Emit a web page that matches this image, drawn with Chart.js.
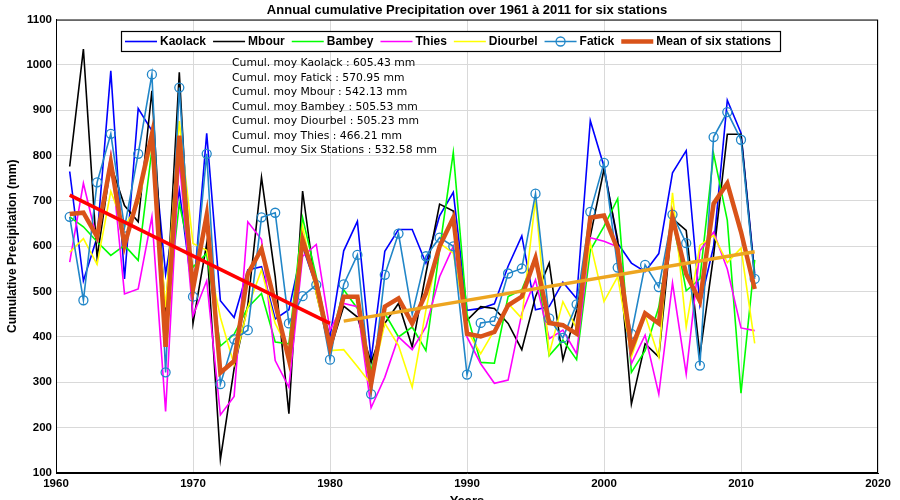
<!DOCTYPE html>
<html>
<head>
<meta charset="utf-8">
<script src="https://cdn.jsdelivr.net/npm/chart.js@4.4.1/dist/chart.umd.min.js"></script>
<style>
  html, body { margin: 0; padding: 0; background: #fff; overflow: hidden; }
  #wrap { position: relative; width: 900px; height: 509px; }
</style>
</head>
<body>
<div id="wrap"><canvas id="precipChart"></canvas></div>
<script>
const years = [1961, 1962, 1963, 1964, 1965, 1966, 1967, 1968, 1969, 1970,
               1971, 1972, 1973, 1974, 1975, 1976, 1977, 1978, 1979, 1980,
               1981, 1982, 1983, 1984, 1985, 1986, 1987, 1988, 1989, 1990,
               1991, 1992, 1993, 1994, 1995, 1996, 1997, 1998, 1999, 2000,
               2001, 2002, 2003, 2004, 2005, 2006, 2007, 2008, 2009, 2010, 2011];

const kaolack = [765, 524, 620, 987, 528, 904, 855, 539, 724, 487,
                 849, 480, 443, 548, 555, 440, 460, 600, 510, 400,
                 590, 655, 350, 589, 637, 637, 563, 667, 719, 459,
                 463, 473, 556, 623, 460, 467, 521, 485, 877, 776,
                 607, 563, 544, 584, 762, 811, 470, 600, 922, 850, 540];

const mbour = [776, 1035, 575, 780, 690, 654, 943, 436, 984, 430,
               606, 130, 330, 470, 752, 533, 231, 722, 496, 370,
               468, 444, 344, 430, 474, 378, 540, 693, 678, 437,
               467, 463, 430, 372, 489, 563, 350, 459, 622, 770,
               614, 252, 385, 356, 661, 635, 360, 580, 847, 847, 532];

const bambey = [665, 643, 610, 580, 602, 569, 813, 420, 695, 554,
                584, 380, 406, 465, 496, 389, 385, 663, 533, 385,
                504, 463, 326, 452, 400, 422, 370, 593, 807, 450,
                344, 342, 489, 504, 578, 359, 393, 350, 591, 644,
                705, 322, 370, 466, 661, 502, 528, 804, 657, 276, 570];

const thies = [565, 739, 613, 802, 495, 506, 665, 236, 791, 447,
               524, 228, 269, 654, 615, 348, 289, 578, 604, 415,
               474, 467, 244, 311, 400, 372, 422, 533, 600, 400,
               341, 298, 305, 452, 526, 396, 415, 363, 619, 611,
               599, 341, 404, 274, 519, 318, 590, 631, 550, 420, 414];

const diourbel = [587, 617, 560, 721, 643, 695, 828, 465, 876, 606,
                  591, 443, 339, 465, 548, 430, 370, 644, 496, 370,
                  372, 335, 296, 430, 381, 289, 459, 607, 585, 415,
                  363, 415, 474, 441, 704, 363, 478, 419, 607, 478,
                  533, 356, 448, 356, 718, 422, 602, 624, 564, 596, 386];

const fatick = [665, 481, 741, 848, 641, 804, 979, 322, 950, 489,
                804, 296, 395, 415, 664, 674, 430, 490, 515, 350,
                516, 581, 274, 537, 628, 450, 578, 619, 600, 317,
                431, 435, 540, 551, 716, 441, 398, 472, 676, 784,
                553, 407, 559, 510, 670, 607, 337, 841, 896, 835, 528];

const meanSix = [671, 674, 621, 785, 602, 710, 847, 378, 844, 506,
                 669, 321, 347, 539, 594, 474, 350, 615, 519, 378,
                 489, 489, 296, 467, 485, 430, 496, 600, 663, 407,
                 401, 411, 470, 489, 574, 431, 426, 407, 663, 668,
                 593, 374, 452, 430, 664, 539, 479, 694, 739, 632, 506];

// trend lines (end points)
const trend1Years = [1961, 1980];
const trend1Values = [713, 430];
const trend2Years = [1981, 2011];
const trend2Values = [435, 588];

const xTicks = [1960, 1970, 1980, 1990, 2000, 2010, 2020];
const yTicks = [100, 200, 300, 400, 500, 600, 700, 800, 900, 1000, 1100];

const cumulLines = [
    'Cumul. moy Kaolack : 605.43 mm',
    'Cumul. moy Fatick : 570.95 mm',
    'Cumul. moy Mbour : 542.13 mm',
    'Cumul. moy Bambey : 505.53 mm',
    'Cumul. moy Diourbel : 505.23 mm',
    'Cumul. moy Thies : 466.21 mm',
    'Cumul. moy Six Stations : 532.58 mm'
];

const FONT = '"Liberation Sans", Arial, sans-serif';
const toPoints = (xs, ys) => xs.map((x, i) => ({ x: x, y: ys[i] }));

function stationLine(label, values, color, order) {
    return {
        label: label,
        data: toPoints(years, values),
        borderColor: color,
        backgroundColor: color,
        borderWidth: 1.6,
        pointRadius: 0,
        tension: 0,
        order: order
    };
}

// box round the plot, like matlab
const frameBox = {
    id: 'frameBox',
    afterDraw(chart) {
        const a = chart.chartArea, ctx = chart.ctx;
        ctx.save();
        ctx.strokeStyle = '#000';
        ctx.lineWidth = 1;
        ctx.strokeRect(a.left + 0.5, a.top + 0.5, a.right - a.left - 1, a.bottom - a.top - 1);
        ctx.restore();
    }
};

// legend inside the plot, with a border
const boxedLegend = {
    id: 'boxedLegend',
    afterDraw(chart) {
        const ctx = chart.ctx;
        const items = chart.data.datasets.filter(d => d.inLegend !== false);
        ctx.save();
        ctx.font = 'bold 12px ' + FONT;
        const sample = 32, gap = 3, after = 5;
        let total = 6;
        items.forEach(d => { total += sample + gap + ctx.measureText(d.label).width + after; });
        const top = 31, h = 20;
        const left = 121;
        const boxW = Math.max(total, 780 - left);
        const extra = (boxW - total) / items.length;
        ctx.fillStyle = '#fff';
        ctx.fillRect(left, top, boxW, h);
        ctx.strokeStyle = '#000';
        ctx.lineWidth = 1.2;
        ctx.strokeRect(left + 0.5, top + 0.5, boxW, h);
        let x = left + 4;
        const cy = top + h / 2 + 0.5;
        items.forEach(d => {
            ctx.strokeStyle = d.borderColor;
            ctx.lineWidth = d.borderWidth;
            ctx.beginPath();
            ctx.moveTo(x, cy);
            ctx.lineTo(x + sample, cy);
            ctx.stroke();
            if (d.pointRadius > 0) {
                ctx.lineWidth = d.pointBorderWidth;
                ctx.beginPath();
                ctx.arc(x + sample / 2, cy, d.pointRadius, 0, Math.PI * 2);
                ctx.stroke();
            }
            x += sample + gap;
            ctx.fillStyle = '#000';
            ctx.textBaseline = 'middle';
            ctx.fillText(d.label, x, cy);
            x += ctx.measureText(d.label).width + after + extra;
        });
        ctx.restore();
    }
};

const cumulText = {
    id: 'cumulText',
    afterDraw(chart) {
        const ctx = chart.ctx;
        ctx.save();
        ctx.font = '10.8px "DejaVu Sans", sans-serif';
        ctx.fillStyle = '#000';
        ctx.textBaseline = 'middle';
        cumulLines.forEach((t, i) => ctx.fillText(t, 232, 63.5 + i * 14.45));
        ctx.restore();
    }
};

const ctx = document.getElementById('precipChart').getContext('2d');
new Chart(ctx, {
    type: 'line',
    data: {
        datasets: [
            stationLine('Kaolack', kaolack, '#0000ff', 8),
            stationLine('Mbour', mbour, '#000000', 7),
            stationLine('Bambey', bambey, '#00ff00', 6),
            stationLine('Thies', thies, '#ff00ff', 5),
            stationLine('Diourbel', diourbel, '#ffff00', 4),
            {
                label: 'Fatick',
                data: toPoints(years, fatick),
                borderColor: '#2186c8',
                backgroundColor: 'rgba(0,0,0,0)',
                borderWidth: 1.6,
                pointRadius: 4.5,
                pointBorderWidth: 1.3,
                pointBorderColor: '#2186c8',
                pointBackgroundColor: 'rgba(0,0,0,0)',
                tension: 0,
                order: 3
            },
            {
                label: 'Mean of six stations',
                data: toPoints(years, meanSix),
                borderColor: '#d95319',
                backgroundColor: '#d95319',
                borderWidth: 4.5,
                pointRadius: 0,
                tension: 0,
                order: 2
            },
            {
                label: 'trend 1961-1980',
                data: toPoints(trend1Years, trend1Values),
                borderColor: '#ff0000',
                borderWidth: 3.5,
                pointRadius: 0,
                inLegend: false,
                order: 1
            },
            {
                label: 'trend 1981-2011',
                data: toPoints(trend2Years, trend2Values),
                borderColor: '#eda520',
                borderWidth: 3.5,
                pointRadius: 0,
                inLegend: false,
                order: 0
            }
        ]
    },
    options: {
        responsive: true,
        maintainAspectRatio: false,
        animation: false,
        layout: { padding: { left: 2, right: 22, top: 0, bottom: 0 } },
        scales: {
            x: {
                type: 'linear',
                min: 1960,
                max: 2020,
                afterBuildTicks: (scale) => { scale.ticks = xTicks.map(v => ({ value: v })); },
                afterFit: (scale) => { scale.height = 36; },
                ticks: {
                    callback: (v) => String(v),
                    color: '#000',
                    font: { family: FONT, size: 11.5, weight: 'bold' },
                    padding: 4,
                    maxRotation: 0
                },
                grid: { color: '#d9d9d9', drawTicks: false },
                border: { display: true, color: '#000' },
                title: {
                    display: true,
                    text: 'Years',
                    color: '#000',
                    font: { family: FONT, size: 13, weight: 'bold' },
                    padding: { top: 0, bottom: 0 }
                }
            },
            y: {
                min: 100,
                max: 1100,
                afterBuildTicks: (scale) => { scale.ticks = yTicks.map(v => ({ value: v })); },
                afterFit: (scale) => { scale.width = 54; },
                ticks: {
                    callback: (v) => String(v),
                    color: '#000',
                    font: { family: FONT, size: 11.5, weight: 'bold' },
                    padding: 4
                },
                grid: { color: '#d9d9d9', drawTicks: false },
                border: { display: true, color: '#000' },
                title: {
                    display: true,
                    text: 'Cumulative Precipitation (mm)',
                    color: '#000',
                    font: { family: FONT, size: 12, weight: 'bold' },
                    padding: { top: 3, bottom: 2 }
                }
            }
        },
        plugins: {
            legend: { display: false },
            tooltip: { enabled: false },
            title: {
                display: true,
                fullSize: false,
                text: 'Annual cumulative Precipitation over 1961 à 2011 for six stations',
                color: '#000',
                font: { family: FONT, size: 13, weight: 'bold' },
                padding: { top: 3, bottom: 1 }
            }
        }
    },
    plugins: [frameBox, boxedLegend, cumulText]
});
</script>
</body>
</html>
